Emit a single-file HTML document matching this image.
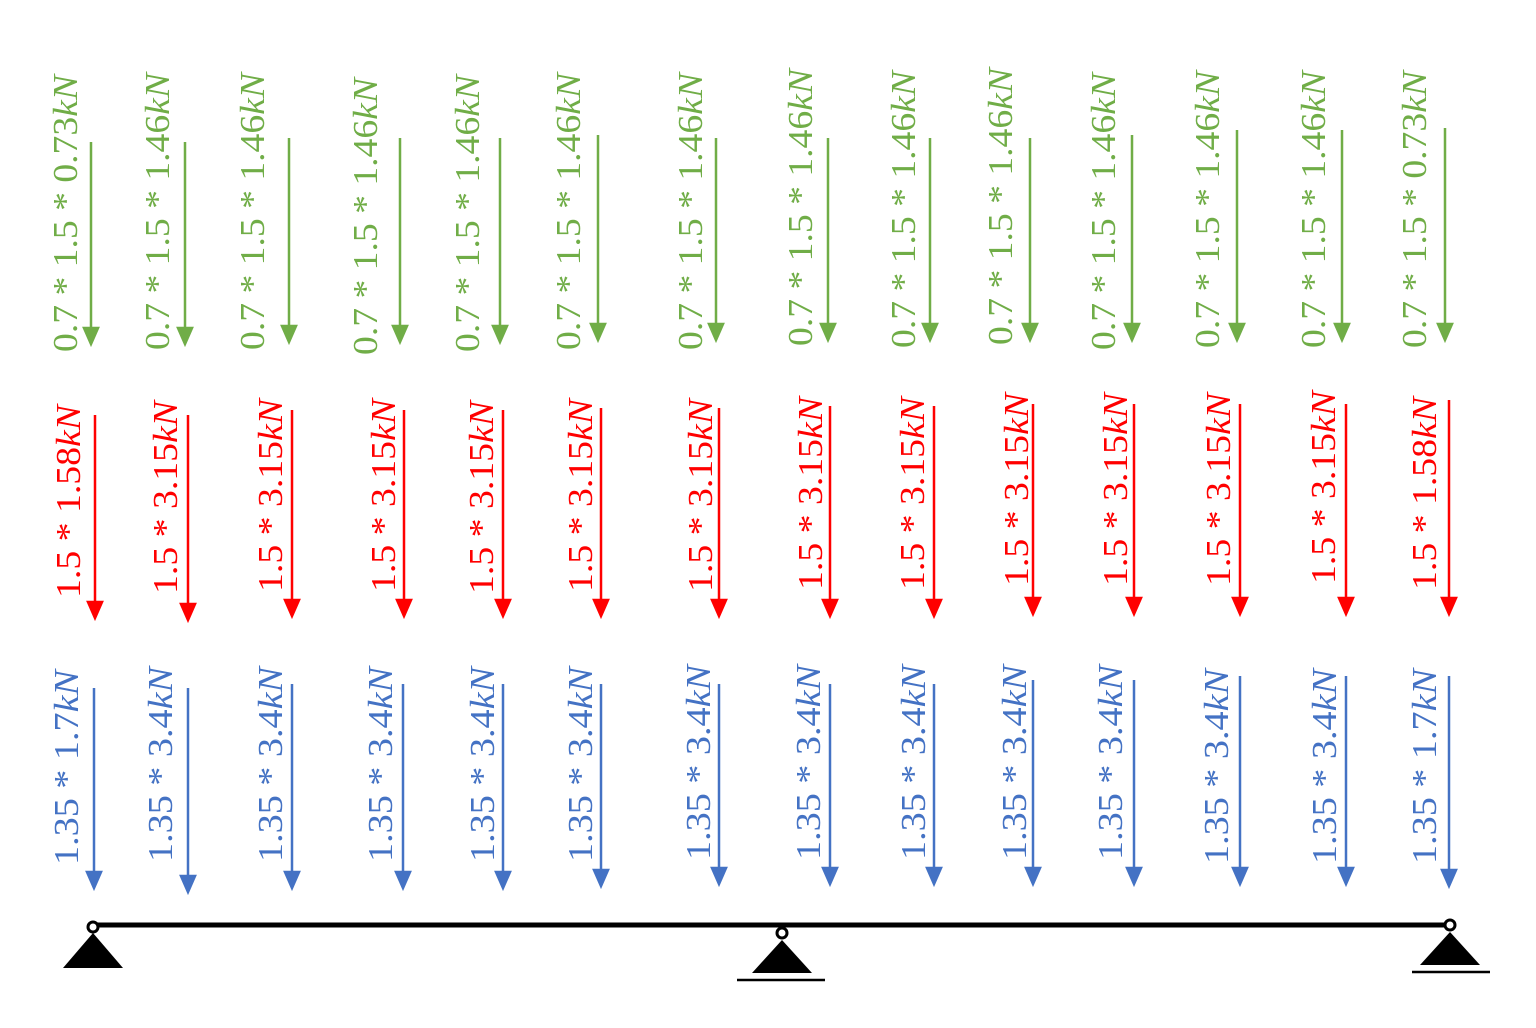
<!DOCTYPE html>
<html><head><meta charset="utf-8"><style>html,body{margin:0;padding:0;background:#fff}svg{display:block}
text{font-family:"Liberation Serif","DejaVu Serif",serif;font-size:35px}
.g{fill:#70ad47}.r{fill:#ff0000}.b{fill:#4472c4}
</style></head><body>
<svg width="1536" height="1028" viewBox="0 0 1536 1028" xmlns="http://www.w3.org/2000/svg" font-family="Liberation Serif, serif">
<g stroke="#70ad47" stroke-width="2.5" fill="#70ad47">
<line x1="91" y1="142" x2="91" y2="330"/><path d="M84,328h14l-7,16z"/>
<line x1="185" y1="142" x2="185" y2="330"/><path d="M178,328h14l-7,16z"/>
<line x1="289" y1="138" x2="289" y2="328"/><path d="M282,326h14l-7,16z"/>
<line x1="400" y1="138" x2="400" y2="328"/><path d="M393,326h14l-7,16z"/>
<line x1="500" y1="138" x2="500" y2="328"/><path d="M493,326h14l-7,16z"/>
<line x1="598" y1="135" x2="598" y2="326"/><path d="M591,324h14l-7,16z"/>
<line x1="716" y1="138" x2="716" y2="326"/><path d="M709,324h14l-7,16z"/>
<line x1="828" y1="138" x2="828" y2="326"/><path d="M821,324h14l-7,16z"/>
<line x1="930" y1="138" x2="930" y2="326"/><path d="M923,324h14l-7,16z"/>
<line x1="1030" y1="138" x2="1030" y2="326"/><path d="M1023,324h14l-7,16z"/>
<line x1="1132" y1="135" x2="1132" y2="326"/><path d="M1125,324h14l-7,16z"/>
<line x1="1237" y1="130" x2="1237" y2="326"/><path d="M1230,324h14l-7,16z"/>
<line x1="1342" y1="130" x2="1342" y2="326"/><path d="M1335,324h14l-7,16z"/>
<line x1="1445" y1="128" x2="1445" y2="326"/><path d="M1438,324h14l-7,16z"/>
</g>
<g class="g">
<text transform="translate(77,352) rotate(-90)" textLength="277" lengthAdjust="spacingAndGlyphs">0.7 * 1.5 * 0.73<tspan font-style="italic">kN</tspan></text>
<text transform="translate(169,350) rotate(-90)" textLength="277" lengthAdjust="spacingAndGlyphs">0.7 * 1.5 * 1.46<tspan font-style="italic">kN</tspan></text>
<text transform="translate(264,350) rotate(-90)" textLength="277" lengthAdjust="spacingAndGlyphs">0.7 * 1.5 * 1.46<tspan font-style="italic">kN</tspan></text>
<text transform="translate(377,355) rotate(-90)" textLength="277" lengthAdjust="spacingAndGlyphs">0.7 * 1.5 * 1.46<tspan font-style="italic">kN</tspan></text>
<text transform="translate(479,352) rotate(-90)" textLength="277" lengthAdjust="spacingAndGlyphs">0.7 * 1.5 * 1.46<tspan font-style="italic">kN</tspan></text>
<text transform="translate(580,350) rotate(-90)" textLength="277" lengthAdjust="spacingAndGlyphs">0.7 * 1.5 * 1.46<tspan font-style="italic">kN</tspan></text>
<text transform="translate(702,350) rotate(-90)" textLength="277" lengthAdjust="spacingAndGlyphs">0.7 * 1.5 * 1.46<tspan font-style="italic">kN</tspan></text>
<text transform="translate(812,346) rotate(-90)" textLength="277" lengthAdjust="spacingAndGlyphs">0.7 * 1.5 * 1.46<tspan font-style="italic">kN</tspan></text>
<text transform="translate(915,348) rotate(-90)" textLength="277" lengthAdjust="spacingAndGlyphs">0.7 * 1.5 * 1.46<tspan font-style="italic">kN</tspan></text>
<text transform="translate(1012,345) rotate(-90)" textLength="277" lengthAdjust="spacingAndGlyphs">0.7 * 1.5 * 1.46<tspan font-style="italic">kN</tspan></text>
<text transform="translate(1115,350) rotate(-90)" textLength="277" lengthAdjust="spacingAndGlyphs">0.7 * 1.5 * 1.46<tspan font-style="italic">kN</tspan></text>
<text transform="translate(1219,348) rotate(-90)" textLength="277" lengthAdjust="spacingAndGlyphs">0.7 * 1.5 * 1.46<tspan font-style="italic">kN</tspan></text>
<text transform="translate(1325,348) rotate(-90)" textLength="277" lengthAdjust="spacingAndGlyphs">0.7 * 1.5 * 1.46<tspan font-style="italic">kN</tspan></text>
<text transform="translate(1426,348) rotate(-90)" textLength="277" lengthAdjust="spacingAndGlyphs">0.7 * 1.5 * 0.73<tspan font-style="italic">kN</tspan></text>
</g>
<g stroke="#ff0000" stroke-width="2.5" fill="#ff0000">
<line x1="95" y1="415" x2="95" y2="604"/><path d="M88,602h14l-7,16z"/>
<line x1="188" y1="415" x2="188" y2="606"/><path d="M181,604h14l-7,16z"/>
<line x1="292" y1="410" x2="292" y2="602"/><path d="M285,600h14l-7,16z"/>
<line x1="404" y1="410" x2="404" y2="602"/><path d="M397,600h14l-7,16z"/>
<line x1="503" y1="410" x2="503" y2="602"/><path d="M496,600h14l-7,16z"/>
<line x1="601" y1="408" x2="601" y2="602"/><path d="M594,600h14l-7,16z"/>
<line x1="719" y1="408" x2="719" y2="602"/><path d="M712,600h14l-7,16z"/>
<line x1="830" y1="406" x2="830" y2="602"/><path d="M823,600h14l-7,16z"/>
<line x1="934" y1="406" x2="934" y2="602"/><path d="M927,600h14l-7,16z"/>
<line x1="1033" y1="404" x2="1033" y2="600"/><path d="M1026,598h14l-7,16z"/>
<line x1="1134" y1="404" x2="1134" y2="600"/><path d="M1127,598h14l-7,16z"/>
<line x1="1240" y1="404" x2="1240" y2="600"/><path d="M1233,598h14l-7,16z"/>
<line x1="1346" y1="404" x2="1346" y2="600"/><path d="M1339,598h14l-7,16z"/>
<line x1="1449" y1="400" x2="1449" y2="600"/><path d="M1442,598h14l-7,16z"/>
</g>
<g class="r">
<text transform="translate(80,598) rotate(-90)" textLength="193" lengthAdjust="spacingAndGlyphs">1.5 * 1.58<tspan font-style="italic">kN</tspan></text>
<text transform="translate(177,594) rotate(-90)" textLength="193" lengthAdjust="spacingAndGlyphs">1.5 * 3.15<tspan font-style="italic">kN</tspan></text>
<text transform="translate(282,592) rotate(-90)" textLength="193" lengthAdjust="spacingAndGlyphs">1.5 * 3.15<tspan font-style="italic">kN</tspan></text>
<text transform="translate(395,592) rotate(-90)" textLength="193" lengthAdjust="spacingAndGlyphs">1.5 * 3.15<tspan font-style="italic">kN</tspan></text>
<text transform="translate(493,594) rotate(-90)" textLength="193" lengthAdjust="spacingAndGlyphs">1.5 * 3.15<tspan font-style="italic">kN</tspan></text>
<text transform="translate(592,592) rotate(-90)" textLength="193" lengthAdjust="spacingAndGlyphs">1.5 * 3.15<tspan font-style="italic">kN</tspan></text>
<text transform="translate(712,592) rotate(-90)" textLength="193" lengthAdjust="spacingAndGlyphs">1.5 * 3.15<tspan font-style="italic">kN</tspan></text>
<text transform="translate(822,590) rotate(-90)" textLength="193" lengthAdjust="spacingAndGlyphs">1.5 * 3.15<tspan font-style="italic">kN</tspan></text>
<text transform="translate(924,590) rotate(-90)" textLength="193" lengthAdjust="spacingAndGlyphs">1.5 * 3.15<tspan font-style="italic">kN</tspan></text>
<text transform="translate(1028,586) rotate(-90)" textLength="193" lengthAdjust="spacingAndGlyphs">1.5 * 3.15<tspan font-style="italic">kN</tspan></text>
<text transform="translate(1127,586) rotate(-90)" textLength="193" lengthAdjust="spacingAndGlyphs">1.5 * 3.15<tspan font-style="italic">kN</tspan></text>
<text transform="translate(1230,586) rotate(-90)" textLength="193" lengthAdjust="spacingAndGlyphs">1.5 * 3.15<tspan font-style="italic">kN</tspan></text>
<text transform="translate(1335,584) rotate(-90)" textLength="193" lengthAdjust="spacingAndGlyphs">1.5 * 3.15<tspan font-style="italic">kN</tspan></text>
<text transform="translate(1436,590) rotate(-90)" textLength="193" lengthAdjust="spacingAndGlyphs">1.5 * 1.58<tspan font-style="italic">kN</tspan></text>
</g>
<g stroke="#4472c4" stroke-width="2.5" fill="#4472c4">
<line x1="94" y1="688" x2="94" y2="874"/><path d="M87,872h14l-7,16z"/>
<line x1="188" y1="688" x2="188" y2="878"/><path d="M181,876h14l-7,16z"/>
<line x1="292" y1="684" x2="292" y2="874"/><path d="M285,872h14l-7,16z"/>
<line x1="403" y1="684" x2="403" y2="874"/><path d="M396,872h14l-7,16z"/>
<line x1="503" y1="684" x2="503" y2="874"/><path d="M496,872h14l-7,16z"/>
<line x1="601" y1="684" x2="601" y2="872"/><path d="M594,870h14l-7,16z"/>
<line x1="719" y1="684" x2="719" y2="870"/><path d="M712,868h14l-7,16z"/>
<line x1="830" y1="684" x2="830" y2="870"/><path d="M823,868h14l-7,16z"/>
<line x1="934" y1="684" x2="934" y2="870"/><path d="M927,868h14l-7,16z"/>
<line x1="1033" y1="680" x2="1033" y2="870"/><path d="M1026,868h14l-7,16z"/>
<line x1="1134" y1="680" x2="1134" y2="870"/><path d="M1127,868h14l-7,16z"/>
<line x1="1240" y1="676" x2="1240" y2="870"/><path d="M1233,868h14l-7,16z"/>
<line x1="1346" y1="676" x2="1346" y2="870"/><path d="M1339,868h14l-7,16z"/>
<line x1="1449" y1="676" x2="1449" y2="872"/><path d="M1442,870h14l-7,16z"/>
</g>
<g class="b">
<text transform="translate(78,865) rotate(-90)" textLength="195" lengthAdjust="spacingAndGlyphs">1.35 * 1.7<tspan font-style="italic">kN</tspan></text>
<text transform="translate(172,862) rotate(-90)" textLength="195" lengthAdjust="spacingAndGlyphs">1.35 * 3.4<tspan font-style="italic">kN</tspan></text>
<text transform="translate(282,862) rotate(-90)" textLength="195" lengthAdjust="spacingAndGlyphs">1.35 * 3.4<tspan font-style="italic">kN</tspan></text>
<text transform="translate(392,862) rotate(-90)" textLength="195" lengthAdjust="spacingAndGlyphs">1.35 * 3.4<tspan font-style="italic">kN</tspan></text>
<text transform="translate(494,862) rotate(-90)" textLength="195" lengthAdjust="spacingAndGlyphs">1.35 * 3.4<tspan font-style="italic">kN</tspan></text>
<text transform="translate(592,862) rotate(-90)" textLength="195" lengthAdjust="spacingAndGlyphs">1.35 * 3.4<tspan font-style="italic">kN</tspan></text>
<text transform="translate(710,860) rotate(-90)" textLength="195" lengthAdjust="spacingAndGlyphs">1.35 * 3.4<tspan font-style="italic">kN</tspan></text>
<text transform="translate(820,860) rotate(-90)" textLength="195" lengthAdjust="spacingAndGlyphs">1.35 * 3.4<tspan font-style="italic">kN</tspan></text>
<text transform="translate(925,860) rotate(-90)" textLength="195" lengthAdjust="spacingAndGlyphs">1.35 * 3.4<tspan font-style="italic">kN</tspan></text>
<text transform="translate(1026,860) rotate(-90)" textLength="195" lengthAdjust="spacingAndGlyphs">1.35 * 3.4<tspan font-style="italic">kN</tspan></text>
<text transform="translate(1122,860) rotate(-90)" textLength="195" lengthAdjust="spacingAndGlyphs">1.35 * 3.4<tspan font-style="italic">kN</tspan></text>
<text transform="translate(1228,864) rotate(-90)" textLength="195" lengthAdjust="spacingAndGlyphs">1.35 * 3.4<tspan font-style="italic">kN</tspan></text>
<text transform="translate(1336,864) rotate(-90)" textLength="195" lengthAdjust="spacingAndGlyphs">1.35 * 3.4<tspan font-style="italic">kN</tspan></text>
<text transform="translate(1436,864) rotate(-90)" textLength="195" lengthAdjust="spacingAndGlyphs">1.35 * 1.7<tspan font-style="italic">kN</tspan></text>
</g>
<line x1="93" y1="925" x2="1450" y2="925" stroke="#000" stroke-width="5"/>
<path d="M93,933 L123,968 L63,968Z" fill="#000"/>
<circle cx="93" cy="927" r="5" fill="#fff" stroke="#000" stroke-width="3"/>
<path d="M782,940 L812,973 L752,973Z" fill="#000"/>
<circle cx="782" cy="933" r="5" fill="#fff" stroke="#000" stroke-width="3"/>
<line x1="737" y1="980" x2="825" y2="980" stroke="#000" stroke-width="2.5"/>
<path d="M1450,932 L1480,965 L1420,965Z" fill="#000"/>
<circle cx="1450" cy="925" r="5" fill="#fff" stroke="#000" stroke-width="3"/>
<line x1="1412" y1="972" x2="1490" y2="972" stroke="#000" stroke-width="2.5"/>
</svg>
</body></html>
